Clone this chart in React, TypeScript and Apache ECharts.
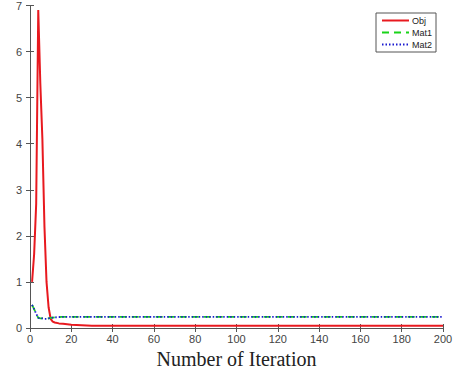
import React, { useEffect, useRef } from "react";
import * as echarts from "echarts";

const objIter = [1, 2, 3, 4, 5, 6, 7, 8, 9, 10, 11, 12, 14, 16, 18, 20, 25, 30, 40, 60, 80, 100, 120, 140, 160, 180, 200];
const objValues = [1.0, 1.6, 2.7, 6.9, 5.3, 4.1, 2.2, 1.0, 0.45, 0.2, 0.14, 0.12, 0.1, 0.09, 0.08, 0.07, 0.06, 0.05, 0.05, 0.05, 0.05, 0.05, 0.05, 0.05, 0.05, 0.05, 0.05];

const matIter = [1, 2, 3, 4, 5, 6, 7, 8, 9, 10, 12, 15, 20, 40, 60, 80, 100, 120, 140, 160, 180, 200];
const mat1Values = [0.5, 0.41, 0.31, 0.22, 0.21, 0.21, 0.2, 0.2, 0.21, 0.22, 0.23, 0.24, 0.24, 0.24, 0.24, 0.24, 0.24, 0.24, 0.24, 0.24, 0.24, 0.24];
const mat2Values = [0.5, 0.41, 0.31, 0.22, 0.21, 0.21, 0.2, 0.2, 0.21, 0.22, 0.23, 0.24, 0.24, 0.24, 0.24, 0.24, 0.24, 0.24, 0.24, 0.24, 0.24, 0.24];

const seriesNames = ["Obj", "Mat1", "Mat2"];
const xTitle = "Number of Iteration";

export default function App() {
  const ref = useRef<HTMLDivElement>(null);
  useEffect(() => {
    if (!ref.current) return;
    const chart = echarts.init(ref.current, null, { renderer: "svg" });
    const axisLine = { show: true, lineStyle: { color: "#555", width: 1 } };
    const tick = { show: true, inside: true, length: 4, lineStyle: { color: "#555" } };
    const label = { color: "#444", fontSize: 11, fontFamily: "Liberation Sans, Arial, sans-serif" };
    chart.setOption({
      animation: false,
      backgroundColor: "#fff",
      grid: { left: 30, top: 5, right: 31, bottom: 62 },
      legend: {
        orient: "vertical",
        left: 376,
        top: 13,
        data: seriesNames,
        backgroundColor: "#fff",
        borderColor: "#555",
        borderWidth: 1,
        borderRadius: 0,
        padding: [3, 4, 3, 5],
        itemGap: 3,
        itemWidth: 27,
        itemHeight: 8,
        itemStyle: { opacity: 0 },
        textStyle: { fontSize: 9, color: "#222", fontFamily: "Liberation Sans, Arial, sans-serif", padding: [0, 0, 0, -2] },
      },
      xAxis: [
        {
          type: "value",
          min: 0,
          max: 200,
          interval: 20,
          axisLine,
          axisTick: tick,
          splitLine: { show: false },
          axisLabel: { ...label, margin: 5 },
          name: xTitle,
          nameLocation: "middle",
          nameGap: 19,
          nameTextStyle: { fontSize: 20, color: "#222", fontFamily: "Liberation Serif, Times New Roman, serif" },
        },
        {
          type: "value",
          position: "top",
          min: 0,
          max: 200,
          interval: 20,
          axisLine,
          axisTick: tick,
          splitLine: { show: false },
          axisLabel: { show: false },
        },
      ],
      yAxis: [
        {
          type: "value",
          min: 0,
          max: 7,
          interval: 1,
          axisLine,
          axisTick: tick,
          splitLine: { show: false },
          axisLabel: { ...label, margin: 8 },
        },
        {
          type: "value",
          position: "right",
          min: 0,
          max: 7,
          interval: 1,
          axisLine,
          axisTick: tick,
          splitLine: { show: false },
          axisLabel: { show: false },
        },
      ],
      series: [
        {
          name: seriesNames[0],
          type: "line",
          data: objIter.map((x, i) => [x, objValues[i]]),
          symbol: "none",
          lineStyle: { color: "#e8191f", width: 2 },
          itemStyle: { color: "#e8191f" },
          z: 2,
        },
        {
          name: seriesNames[1],
          type: "line",
          data: matIter.map((x, i) => [x, mat1Values[i]]),
          symbol: "none",
          lineStyle: { color: "#19d419", width: 1.8, type: [7, 5] },
          itemStyle: { color: "#19d419" },
          z: 3,
        },
        {
          name: seriesNames[2],
          type: "line",
          data: matIter.map((x, i) => [x, mat2Values[i]]),
          symbol: "none",
          lineStyle: { color: "#1a1ad0", width: 1.8, type: [1.5, 2] },
          itemStyle: { color: "#1a1ad0" },
          z: 4,
        },
      ],
    });
    return () => chart.dispose();
  }, []);
  return <div ref={ref} style={{ width: 474, height: 390, position: "absolute", left: 0, top: 0 }} />;
}
